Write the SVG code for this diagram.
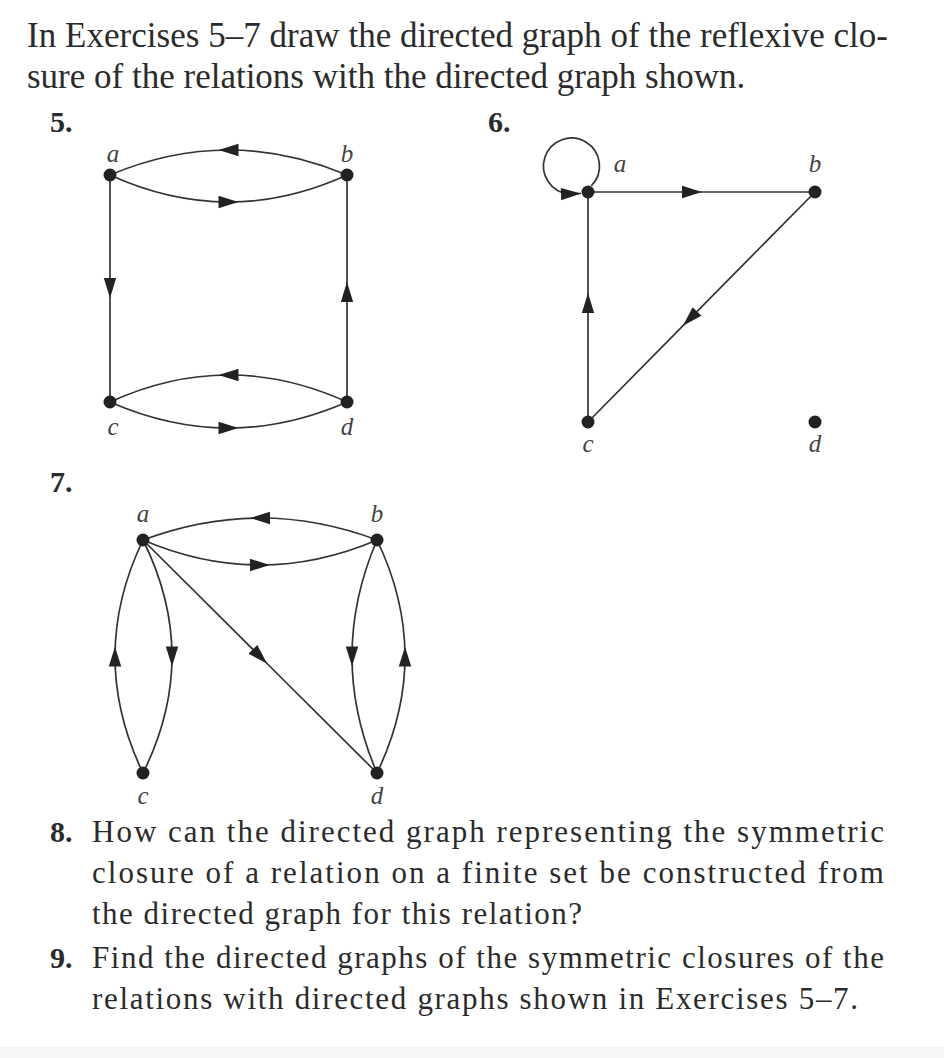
<svg xmlns="http://www.w3.org/2000/svg" width="944" height="1058" viewBox="0 0 944 1058">
<style>
  .txt { font-family: "Liberation Serif", "Times New Roman", serif; fill: #2b2b2b; }
  .head { font-size: 35px; }
  .body { font-size: 31px; }
  .num { font-size: 30px; font-weight: bold; }
  .lbl { font-family: "Liberation Serif", "Times New Roman", serif; font-style: italic; font-size: 25px; fill: #444; text-anchor: middle; }
  .edge { fill: none; stroke: #333; stroke-width: 1.7; marker-mid: url(#mid); }
  .dot { fill: #222; }
</style>
<defs>
  <marker id="mid" markerUnits="userSpaceOnUse" viewBox="-12 -8 24 16" markerWidth="24" markerHeight="16" refX="0" refY="0" orient="auto">
    <path d="M-10,-6.2 L10,0 L-10,6.2 Z" fill="#222"/>
  </marker>
  <marker id="end" markerUnits="userSpaceOnUse" viewBox="-22 -8 24 16" markerWidth="24" markerHeight="16" refX="0" refY="0" orient="auto">
    <path d="M-20,-6.2 L0,0 L-20,6.2 Z" fill="#222"/>
  </marker>
</defs>
<rect x="0" y="0" width="944" height="1058" fill="#ffffff"/>
<rect x="0" y="1046" width="944" height="12" fill="#f6f6f6"/>

<g id="header">
  <text class="txt head" x="27" y="47" textLength="861" lengthAdjust="spacing">In Exercises 5–7 draw the directed graph of the reflexive clo-</text>
  <text class="txt head" x="27" y="88">sure of the relations with the directed graph shown.</text>
</g>

<g id="numbers">
  <text class="txt num" x="50" y="132">5.</text>
  <text class="txt num" x="488" y="132">6.</text>
  <text class="txt num" x="50" y="492">7.</text>
</g>

<!-- Graph 5 -->
<g id="g5-connectors">
  <path class="edge" d="M347,175 Q287.75,150 228.5,150 Q169.25,150 110,175"/>
  <path class="edge" d="M110,175 Q169.25,202 228.5,202 Q287.75,202 347,175"/>
  <path class="edge" d="M347,402 Q287.75,375 228.5,375 Q169.25,375 110,402"/>
  <path class="edge" d="M110,402 Q169.25,428 228.5,428 Q287.75,428 347,402"/>
  <path class="edge" d="M110,175 L110,288 L110,402"/>
  <path class="edge" d="M347,402 L347,292 L347,175"/>
</g>
<g id="g5-a"><circle class="dot" cx="110" cy="175" r="6.5"/><text class="lbl" x="113" y="162">a</text></g>
<g id="g5-b"><circle class="dot" cx="347" cy="175" r="6.5"/><text class="lbl" x="347" y="162">b</text></g>
<g id="g5-c"><circle class="dot" cx="110" cy="402" r="6.5"/><text class="lbl" x="113" y="435">c</text></g>
<g id="g5-d"><circle class="dot" cx="347" cy="402" r="6.5"/><text class="lbl" x="347" y="435">d</text></g>

<!-- Graph 6 -->
<g id="g6-connectors">
  <path class="edge" d="M588,192 L692,192 L815,192"/>
  <path class="edge" d="M815,192 L690,318.6 L588,422"/>
  <path class="edge" d="M588,422 L588,303 L588,192"/>
  <path d="M591.3,185.8 A28,28 0 1 0 569.1,193.9 L581,193.5" fill="none" stroke="#333" stroke-width="1.7" marker-end="url(#end)"/>
</g>
<g id="g6-a"><circle class="dot" cx="588" cy="192" r="6.5"/><text class="lbl" x="620" y="172">a</text></g>
<g id="g6-b"><circle class="dot" cx="815" cy="192" r="6.5"/><text class="lbl" x="815" y="172">b</text></g>
<g id="g6-c"><circle class="dot" cx="588" cy="422" r="6.5"/><text class="lbl" x="588" y="452">c</text></g>
<g id="g6-d"><circle class="dot" cx="815" cy="422" r="6.5"/><text class="lbl" x="815" y="452">d</text></g>

<!-- Graph 7 -->
<g id="g7-connectors">
  <path class="edge" d="M377,540 Q318.5,518 260,518 Q201.5,518 143,540"/>
  <path class="edge" d="M143,540 Q201.5,565 260,565 Q318.5,565 377,540"/>
  <path class="edge" d="M143,773 Q115,714.75 115,656.5 Q115,598.25 143,540"/>
  <path class="edge" d="M143,540 Q172,598.25 172,656.5 Q172,714.75 143,773"/>
  <path class="edge" d="M377,540 Q352,598.25 352,656.5 Q352,714.75 377,773"/>
  <path class="edge" d="M377,773 Q405,714.75 405,656.5 Q405,598.25 377,540"/>
  <path class="edge" d="M143,540 L260,656.5 L377,773"/>
</g>
<g id="g7-a"><circle class="dot" cx="143" cy="540" r="6.5"/><text class="lbl" x="143" y="522">a</text></g>
<g id="g7-b"><circle class="dot" cx="377" cy="540" r="6.5"/><text class="lbl" x="377" y="522">b</text></g>
<g id="g7-c"><circle class="dot" cx="143" cy="773" r="6.5"/><text class="lbl" x="143" y="804">c</text></g>
<g id="g7-d"><circle class="dot" cx="377" cy="773" r="6.5"/><text class="lbl" x="377" y="804">d</text></g>

<g id="questions">
  <text class="txt num" x="50" y="842">8.</text>
  <text class="txt body" x="92" y="842" textLength="792" lengthAdjust="spacing">How can the directed graph representing the symmetric</text>
  <text class="txt body" x="92" y="883" textLength="792" lengthAdjust="spacing">closure of a relation on a finite set be constructed from</text>
  <text class="txt body" x="92" y="924" textLength="490" lengthAdjust="spacing">the directed graph for this relation?</text>
  <text class="txt num" x="50" y="968">9.</text>
  <text class="txt body" x="92" y="968" textLength="792" lengthAdjust="spacing">Find the directed graphs of the symmetric closures of the</text>
  <text class="txt body" x="92" y="1009" textLength="766" lengthAdjust="spacing">relations with directed graphs shown in Exercises 5–7.</text>
</g>
</svg>
